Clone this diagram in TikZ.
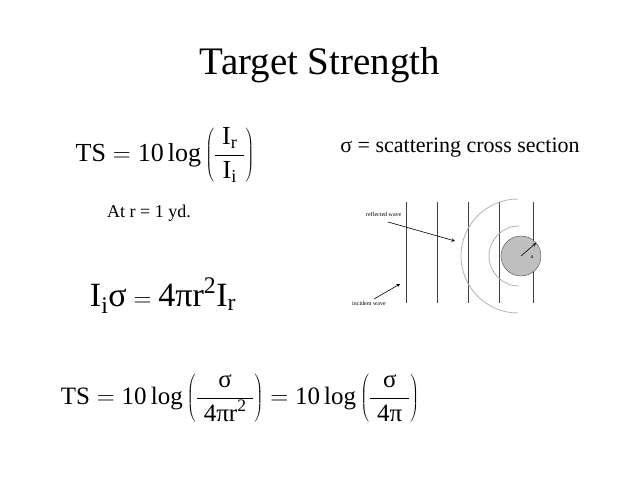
\documentclass[tikz,border=0pt]{standalone}
\usepackage{fontspec}
\setmainfont{Liberation Serif}
\begin{document}
\begin{tikzpicture}[x=1pt,y=-1pt,
  wave/.style={line width=0.9pt,black!75},
  ring/.style={line width=0.8pt,black!30},
  lbl/.style={font=\fontsize{6}{7}\selectfont,inner sep=0pt},
  ar/.style={-stealth,line width=0.6pt}]
\useasboundingbox (0,0) rectangle (638,478);
\node (title) at (320,65) {\fontsize{39}{44}\selectfont Target Strength};
\node (eq1) at (165,155) {\fontsize{26}{30}\selectfont $\displaystyle\mathrm{TS}=\mathrm{10}\,\mathrm{log}\left(\frac{\;\mathrm{I}_{\mathrm{r}}\;}{\mathrm{I}_{\mathrm{i}}}\right)$};
\node (sig) at (460,148) {\fontsize{22}{26}\selectfont σ = scattering cross section};
\node (at) at (149,213) {\fontsize{18}{21}\selectfont At r = 1 yd.};
\node (eq2) at (163,296) {\fontsize{34}{40}\selectfont $\mathrm{I}_{\mathrm{i}}\mbox{σ}=\mbox{4πr}^{\mathrm{2}}\mathrm{I}_{\mathrm{r}}$};
\node (eq3) at (240,398) {\fontsize{25}{30}\selectfont $\displaystyle\mathrm{TS}=\mathrm{10}\,\mathrm{log}\left(\frac{\mbox{σ}}{\;\mbox{4πr}^{\mathrm{2}}\;}\right)=\mathrm{10}\,\mathrm{log}\left(\frac{\mbox{σ}}{\;\mbox{4π}\;}\right)$};
% figure
\foreach \x in {406,437,468,499,533} \draw[wave] (\x,202) -- (\x,303);
\draw[ring] (518,199) arc[start angle=-90,end angle=-270,radius=57];
\draw[ring] (519,226) arc[start angle=-90,end angle=-270,radius=30];
\node[circle,draw=black!70,fill=black!25,minimum size=40pt,inner sep=0pt] (ball) at (521,256) {};
\draw[ar] (ball.center) -- (536,243);
\node[lbl] (a) at (532,257) {a};
\node[lbl,anchor=west] (rw) at (366,214) {reflected wave};
\coordinate (rwt) at (455,241);
\draw[ar] (388,222) -- (rwt);
\node[lbl,anchor=west] (iw) at (352,303) {incident wave};
\coordinate (iwt) at (400,284);
\draw[ar] (374,299) -- (iwt);
\end{tikzpicture}
\end{document}
